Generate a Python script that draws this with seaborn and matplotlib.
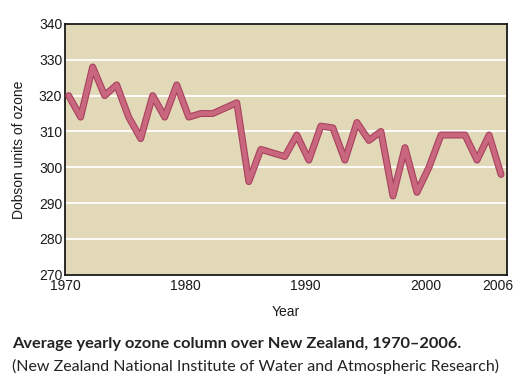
import matplotlib
matplotlib.use("Agg")
import matplotlib.pyplot as plt
import matplotlib.patheffects as pe
import seaborn as sns
import pandas as pd

# yearly average ozone column
years = list(range(1970, 2007))
ozone = [320, 314, 328, 320, 323, 314, 308, 320, 314, 323,
         314, 315, 315, 316.5, 318, 296, 305, 304, 303, 309,
         302, 311.5, 311, 302, 312.5, 307.5, 310, 292, 305.5, 293,
         300, 309, 309, 309, 302, 309, 298]

y_ticks = [270, 280, 290, 300, 310, 320, 330, 340]
x_ticks = [1970, 1980, 1990, 2000, 2006]

df = pd.DataFrame({"Year": years, "Ozone": ozone})
# values drawn a bit into each year, as in the original
df["Year"] = df["Year"] + 0.3

sns.set_style("white")
plt.rcParams["font.family"] = ["Liberation Sans", "DejaVu Sans"]

fig = plt.figure(figsize=(5.26, 3.86), dpi=100)
ax = fig.add_axes([0.1236, 0.288, 0.8404, 0.650])
ax.set_facecolor("#e2d9b9")

for v in y_ticks[1:-1]:
    ax.axhline(v, color="white", lw=1.3, zorder=1)

sns.lineplot(data=df, x="Year", y="Ozone", ax=ax, color="#c9677f", lw=3.4,
             zorder=3,
             path_effects=[pe.Stroke(linewidth=5.0, foreground="#a8415e"), pe.Normal()])

ax.set_xlim(1970, 2006.8)
ax.set_ylim(270, 340)
ax.set_xticks(x_ticks)
ax.set_yticks(y_ticks)
ax.tick_params(direction="in", length=8, width=1.2, color="#1a1a1a",
               labelsize=10, labelcolor="#1a1a1a", pad=2)
ax.tick_params(axis="x", pad=3)
for s in ax.spines.values():
    s.set_color("#1a1a1a")
    s.set_linewidth(1.3)

ax.set_xlabel("Year", fontsize=10, color="#1a1a1a", labelpad=9)
ax.set_ylabel("Dobson units of ozone", fontsize=10, color="#1a1a1a", labelpad=9)

fig.text(0.023, 0.099, "Average yearly ozone column over New Zealand, 1970\u20132006.",
         fontsize=11.8, fontweight="bold", color="#222222", family=["Lato", "DejaVu Sans"])
fig.text(0.023, 0.040, "(New Zealand National Institute of Water and Atmospheric Research)",
         fontsize=11.5, color="#222222", family=["Lato", "DejaVu Sans"])

fig.savefig("out.png", dpi=100)
